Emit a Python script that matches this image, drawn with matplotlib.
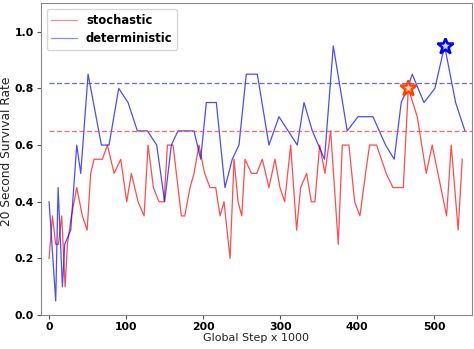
import numpy as np
import matplotlib.pyplot as plt

# vertices (global step x 1000, survival rate)
stoch_steps = [0, 4.3, 8.6, 12.1, 16.4, 20.8, 23.8, 29.0, 35.9, 43.2, 49.4, 54.0,
               58.4, 69.2, 75.7, 84.4, 93.0, 100.8, 106.8, 115.5, 123.3, 128.5,
               135.4, 142.7, 149.2, 153.6, 160.9, 171.7, 176.1, 183.0, 188.1,
               194.6, 201.9, 208.9, 216.3, 221.9, 227.1, 234.9, 240.1, 245.3,
               250.1, 254.4, 262.6, 269.5, 276.8, 285.4, 293.2, 299.7, 305.8,
               313.6, 321.3, 326.5, 334.3, 340.4, 345.1, 351.2, 358.1, 365.5,
               375.4, 380.6, 389.2, 396.6, 403.5, 410.8, 416.0, 425.1, 437.6,
               446.3, 459.8, 466.3, 477.9, 489.6, 497.3, 516.0, 522.0, 531.0,
               536.3]
stoch_rate = [0.20, 0.35, 0.25, 0.25, 0.35, 0.10, 0.25, 0.35, 0.45, 0.35, 0.30, 0.50,
              0.55, 0.55, 0.60, 0.50, 0.55, 0.40, 0.50, 0.40, 0.35, 0.60,
              0.45, 0.40, 0.40, 0.60, 0.60, 0.35, 0.35, 0.45, 0.50,
              0.60, 0.50, 0.45, 0.45, 0.35, 0.40, 0.20, 0.55, 0.40,
              0.35, 0.55, 0.50, 0.50, 0.55, 0.45, 0.55, 0.45, 0.40,
              0.60, 0.30, 0.45, 0.50, 0.40, 0.40, 0.60, 0.50, 0.65,
              0.25, 0.60, 0.60, 0.40, 0.35, 0.50, 0.60, 0.60, 0.50,
              0.45, 0.45, 0.80, 0.70, 0.50, 0.60, 0.35, 0.60, 0.30,
              0.55]

determ_steps = [0, 8.6, 11.7, 17.3, 20.3, 28.1, 35.9, 41.1, 50.6, 67.9, 77.8, 90.4,
                102.5, 114.6, 127.6, 139.7, 150.0, 158.7, 167.4, 188.1, 196.8,
                204.1, 217.1, 228.3, 237.8, 246.5, 256.0, 270.3, 285.4, 298.4,
                322.2, 330.9, 341.7, 357.5, 368.9, 387.0, 401.0, 420.4, 436.8,
                448.0, 457.1, 465.0, 471.4, 486.6, 500.8, 513.4, 527.7, 539.8]
determ_rate = [0.40, 0.05, 0.45, 0.10, 0.25, 0.30, 0.60, 0.50, 0.85, 0.60, 0.60, 0.80,
               0.75, 0.65, 0.65, 0.60, 0.40, 0.60, 0.65, 0.65, 0.55,
               0.75, 0.75, 0.45, 0.55, 0.60, 0.85, 0.85, 0.60, 0.70,
               0.60, 0.75, 0.65, 0.55, 0.95, 0.65, 0.70, 0.70, 0.60,
               0.55, 0.75, 0.80, 0.85, 0.75, 0.80, 0.95, 0.75, 0.65]

stoch_ref = 0.65
determ_ref = 0.82


def main():
    fig = plt.figure(figsize=(4.74, 3.49), dpi=100)
    ax = fig.add_axes([0.0865, 0.097, 0.9085, 0.8935])

    ax.plot(stoch_steps, stoch_rate, color="red", alpha=0.7, lw=0.9, label="stochastic")
    ax.plot(determ_steps, determ_rate, color="blue", alpha=0.7, lw=0.9, label="deterministic")

    xmax = 548.5
    ax.hlines(stoch_ref, 0, xmax, colors="#ff4444", linestyles=(0, (4, 2)), lw=0.9, alpha=0.8)
    ax.hlines(determ_ref, 0, xmax, colors="#4444ff", linestyles=(0, (4, 2)), lw=0.9, alpha=0.8)

    # best points
    i_s = int(np.argmax(stoch_rate))
    d = np.array(determ_rate)
    i_d = len(d) - 1 - int(np.argmax(d[::-1]))
    ax.plot(stoch_steps[i_s], stoch_rate[i_s], marker="*", ms=12, color="orangered",
            mfc="#ffd0c0", mew=1.8, zorder=5)
    ax.plot(determ_steps[i_d], determ_rate[i_d], marker="*", ms=12, color="blue",
            mfc="#d0d0ff", mew=1.8, zorder=5)

    ax.set_xlim(-10.5, xmax)
    ax.set_ylim(0, 1.1)
    ax.set_xticks([0, 100, 200, 300, 400, 500])
    ax.set_yticks([0.0, 0.2, 0.4, 0.6, 0.8, 1.0])
    ax.set_yticklabels(["0.0", "0.2", "0.4", "0.6", "0.8", "1.0"])
    for lab in ax.get_xticklabels() + ax.get_yticklabels():
        lab.set_fontweight("bold")
        lab.set_fontsize(7.8)
    ax.tick_params(length=3, width=0.8, pad=2, color="#555555")
    for sp in ax.spines.values():
        sp.set_color("#888888")

    ax.set_xlabel("Global Step x 1000", fontsize=8, color="#222222", labelpad=1)
    ax.set_ylabel("20 Second Survival Rate", fontsize=8.8, color="#222222")
    ax.yaxis.set_label_coords(-0.066, 0.526)

    leg = ax.legend(loc="upper left", prop={"weight": "bold", "size": 8.3},
                    borderaxespad=0.5, handlelength=2.2)
    leg.get_frame().set_edgecolor("#cccccc")
    for h in leg.get_lines():
        h.set_alpha(0.45)

    fig.savefig("out.png", dpi=100)
    plt.close(fig)


if __name__ == "__main__":
    main()
